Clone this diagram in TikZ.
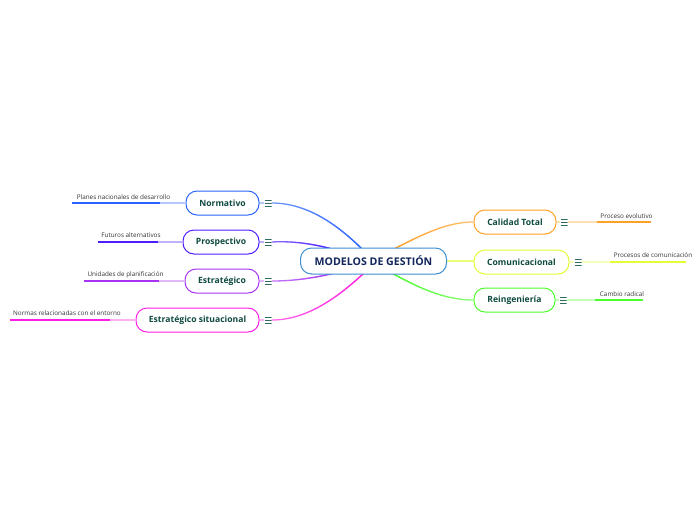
\documentclass[tikz,border=0pt]{standalone}
\usepackage{fontspec}
\setmainfont{Open Sans}
\usetikzlibrary{backgrounds,fadings}
\definecolor{normativocol}{HTML}{2A63FF}
\definecolor{prospectivocol}{HTML}{4E1CFF}
\definecolor{estrategicocol}{HTML}{A833F2}
\definecolor{situacionalcol}{HTML}{FF1FE3}
\definecolor{calidadcol}{HTML}{FFA126}
\definecolor{comunicacol}{HTML}{E4FF33}
\definecolor{reingencol}{HTML}{4CFF2B}
\definecolor{centralcol}{HTML}{3D8FD1}
\definecolor{topictext}{HTML}{0F4A3F}
\definecolor{iconcol}{HTML}{2F6B5E}
\definecolor{centraltext}{HTML}{12265C}
\definecolor{leaftextcol}{HTML}{333333}
\tikzset{
    central/.style={draw=centralcol,fill=white,line width=1pt,rounded corners=11pt,
        minimum width=146pt,minimum height=26pt,inner sep=0pt,
        font=\fontsize{10.6}{12}\selectfont\bfseries,text=centraltext},
    topic/.style={draw=#1,fill=white,line width=1pt,rounded corners=11pt,
        minimum height=24pt,inner sep=0pt,
        font=\fontsize{8.6}{10}\selectfont\bfseries,text=topictext},
    menuicon/.style={minimum width=7pt,minimum height=7pt,inner sep=0pt,
        path picture={\draw[iconcol,line width=0.8pt]
            ([yshift=-0.5pt]path picture bounding box.north west) -- ([yshift=-0.5pt]path picture bounding box.north east)
            ([yshift=-3.5pt]path picture bounding box.north west) -- ([yshift=-3.5pt]path picture bounding box.north east)
            ([yshift=0.5pt]path picture bounding box.south west) -- ([yshift=0.5pt]path picture bounding box.south east);}},
    leaf/.style={inner sep=0pt,font=\fontsize{6.35}{7}\selectfont,text=leaftextcol},
    stem/.style={#1!35,line width=1.1pt},
    bar/.style={#1,line width=1.6pt},
    branch/.style={#1!65,line width=1.3pt},
    branchfull/.style={#1,line width=1.3pt}
}
\begin{document}
\begin{tikzpicture}[x=1pt,y=-1pt]
    \useasboundingbox (0,0) rectangle (696,520);
    %% Nodes
    \node[central] (modelos) at (373.5,261) {MODELOS DE GESTIÓN};
    \node[topic=normativocol,minimum width=73pt] (normativo) at (222.5,203) {Normativo};
    \node[topic=prospectivocol,minimum width=76pt] (prospectivo) at (221,242) {Prospectivo};
    \node[topic=estrategicocol,minimum width=74pt] (estrategico) at (222,281) {Estratégico};
    \node[topic=situacionalcol,minimum width=123pt] (situacional) at (197.5,320) {Estratégico situacional};
    \node[topic=calidadcol,minimum width=82pt] (calidad) at (515,222) {Calidad Total};
    \node[topic=comunicacol,minimum width=95pt] (comunicacional) at (521.5,262) {Comunicacional};
    \node[topic=reingencol,minimum width=81pt] (reingenieria) at (514.5,300) {Reingeniería};
    %% Icons
    \foreach \name/\pos in {normativoicon/{268,203},prospectivoicon/{268,242},estrategicoicon/{268,281},
        situacionalicon/{268,320},calidadicon/{564,222},comunicacionalicon/{578,262},reingenieriaicon/{563,300}}
        \node[menuicon] (\name) at (\pos) {};
    %% Leaf labels
    \node[leaf] (planes) at (123.5,197) {Planes nacionales de desarrollo};
    \node[leaf] (futuros) at (131,235) {Futuros alternativos};
    \node[leaf] (unidades) at (125.5,275) {Unidades de planificación};
    \node[leaf] (normas) at (67,313) {Normas relacionadas con el entorno};
    \node[leaf] (proceso) at (626.5,216) {Proceso evolutivo};
    \node[leaf] (procesos) at (653,255) {Procesos de comunicación};
    \node[leaf] (cambio) at (622,294) {Cambio radical};
    %% Leaf line ends
    \coordinate (planesa) at (160,203);   \coordinate (planesb) at (72,203);
    \coordinate (futurosa) at (158,242);  \coordinate (futurosb) at (98,242);
    \coordinate (unidadesa) at (159,281); \coordinate (unidadesb) at (84,281);
    \coordinate (normasa) at (110,320);   \coordinate (normasb) at (10,320);
    \coordinate (procesoa) at (597,222);  \coordinate (procesob) at (651,222);
    \coordinate (procesosa) at (610,262); \coordinate (procesosb) at (686,262);
    \coordinate (cambioa) at (595,300);   \coordinate (cambiob) at (643,300);
    %% Leaf lines
    \foreach \from/\icon/\mid/\to/\col in {normativo/normativoicon/planesa/planesb/normativocol,
        prospectivo/prospectivoicon/futurosa/futurosb/prospectivocol,
        estrategico/estrategicoicon/unidadesa/unidadesb/estrategicocol,
        situacional/situacionalicon/normasa/normasb/situacionalcol}{
        \draw[stem=\col] (\from.east) -- (\icon.west);
        \draw[stem=\col] (\from.west) -- (\mid);
        \draw[bar=\col] (\mid) -- (\to);
    }
    \foreach \from/\icon/\mid/\to/\col in {calidad/calidadicon/procesoa/procesob/calidadcol,
        comunicacional/comunicacionalicon/procesosa/procesosb/comunicacol,
        reingenieria/reingenieriaicon/cambioa/cambiob/reingencol}{
        \draw[stem=\col] (\from.east) -- (\icon.west);
        \draw[stem=\col] (\icon.east) -- (\mid);
        \draw[bar=\col] (\mid) -- (\to);
    }
    %% Branches
    \begin{scope}[on background layer]
        \foreach \start/\ca/\cb/\target/\col in {{363,250}/{335,222}/{305,203}/normativoicon/normativocol,
            {332,249}/{310,243}/{290,241}/prospectivoicon/prospectivocol,
            {335,273}/{310,279}/{290,281}/estrategicoicon/estrategicocol,
            {364,273}/{335,300}/{305,320}/situacionalicon/situacionalcol}{
            \draw[branch=\col] (\start) .. controls (\ca) and (\cb) .. (\target.east);
            \draw[branchfull=\col,path fading=west] (\start) .. controls (\ca) and (\cb) .. (\target.east);
        }
        \foreach \start/\ca/\cb/\target/\col in {{392,250}/{425,233}/{448,222}/calidad/calidadcol,
            {390,272}/{422,290}/{447,300}/reingenieria/reingencol}{
            \draw[branch=\col] (\start) .. controls (\ca) and (\cb) .. (\target.west);
            \draw[branchfull=\col,path fading=east] (\start) .. controls (\ca) and (\cb) .. (\target.west);
        }
        \draw[branch=comunicacol] (modelos.east) -- (comunicacional.west |- modelos.east);
    \end{scope}
\end{tikzpicture}
\end{document}
